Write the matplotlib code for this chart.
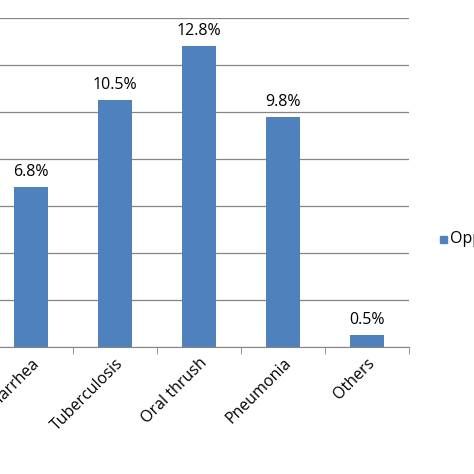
import matplotlib.pyplot as plt
from matplotlib.ticker import MultipleLocator

categories = ["Diarrhea", "Tuberculosis", "Oral thrush", "Pneumonia", "Others"]
values = [6.8, 10.5, 12.8, 9.8, 0.5]
series_name = "Opportunistic infections"
BLUE = "#4F81BD"

plt.rcParams["font.family"] = ["Open Sans", "DejaVu Sans"]
fig = plt.figure(figsize=(4.74, 4.74), dpi=100)
W = H = 474.0
# left part of the original chart is cropped away
ax = fig.add_axes([-95 / W, 1 - 347 / H, (409 + 95) / W, (347 - 18) / H])

x = range(len(categories))
ax.bar(x, values, width=0.4, color=BLUE, zorder=3)
for xi, v in zip(x, values):
    ax.text(xi, v + 0.3, f"{v}%", ha="center", va="bottom", fontsize=11.5)

ax.set_xlim(-0.5 - 1, 4.5)
ax.set_ylim(0, 14)
ax.yaxis.set_major_locator(MultipleLocator(2))
ax.yaxis.grid(True, color="#858585", linewidth=0.9, zorder=0)
ax.set_yticklabels([])
ax.tick_params(axis="y", length=0)
ax.set_xticks([-1.5, -0.5, 0.5, 1.5, 2.5, 3.5, 4.5], minor=True)
ax.tick_params(axis="x", which="minor", length=5, color="#858585")
ax.set_xticks(list(x))
ax.set_xticklabels(categories, rotation=45, ha="right", rotation_mode="anchor", fontsize=11.5)
ax.tick_params(axis="x", which="major", length=0, pad=6)
for s in ["top", "right", "left"]:
    ax.spines[s].set_visible(False)
ax.spines["bottom"].set_color("#858585")

fig.patches.append(plt.Rectangle((440 / W, 1 - 243 / H), 7 / W, 7 / H,
                                 transform=fig.transFigure, color=BLUE))
fig.text(450 / W, 1 - 239 / H, series_name, va="center", fontsize=11.5)

fig.savefig("out.png", dpi=100, facecolor="white")
